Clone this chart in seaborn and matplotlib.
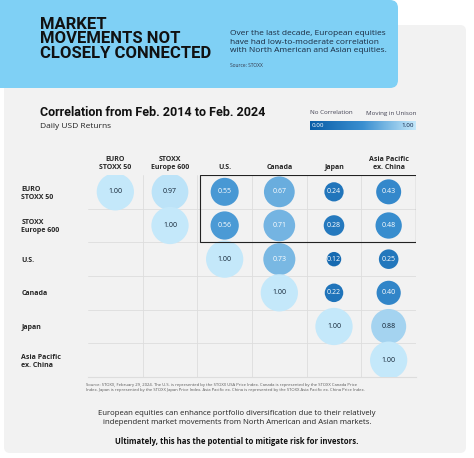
import matplotlib
matplotlib.use("Agg")
import matplotlib.pyplot as plt
import seaborn as sns
import pandas as pd
import numpy as np
from matplotlib.patches import FancyBboxPatch, Rectangle
from matplotlib.colors import LinearSegmentedColormap

sns.set_style("white")
plt.rcParams['font.family'] = ['Open Sans', 'DejaVu Sans']

col_labels = ["EURO\nSTOXX 50", "STOXX\nEurope 600", "U.S.", "Canada", "Japan", "Asia Pacific\nex. China"]
row_labels = ["EURO\nSTOXX 50", "STOXX\nEurope 600", "U.S.", "Canada", "Japan", "Asia Pacific\nex. China"]
row_idx = [0, 0, 0, 0, 0, 0, 1, 1, 1, 1, 1, 2, 2, 2, 2, 3, 3, 3, 4, 4, 5]
col_idx = [0, 1, 2, 3, 4, 5, 1, 2, 3, 4, 5, 2, 3, 4, 5, 3, 4, 5, 4, 5, 5]
values = [1.00, 0.97, 0.55, 0.67, 0.24, 0.43,
          1.00, 0.56, 0.71, 0.28, 0.48,
          1.00, 0.73, 0.12, 0.25,
          1.00, 0.22, 0.40,
          1.00, 0.88,
          1.00]

df = pd.DataFrame({"row": row_idx, "col": col_idx, "value": values})
cmap = LinearSegmentedColormap.from_list("c", ["#0b5ea8", "#3a8fd0", "#c4e8fa"])

fig = plt.figure(figsize=(4.74, 4.58), dpi=100)
fig.patch.set_facecolor("white")
bg = fig.add_axes([0, 0, 1, 1]); bg.axis("off")
bg.add_patch(FancyBboxPatch((4, 25), 462, 428, boxstyle="round,pad=0,rounding_size=6", fc="#f2f2f2", ec="none"))
bg.add_patch(FancyBboxPatch((-10, 0), 408, 88, boxstyle="round,pad=0,rounding_size=8", fc="#7fd0f5", ec="none"))
bg.text(40, 17, "MARKET\nMOVEMENTS NOT\nCLOSELY CONNECTED", fontsize=12, fontweight="bold", va="top",
        family=["Roboto", "DejaVu Sans"], linespacing=0.95, color="#111")
bg.text(230, 30, "Over the last decade, European equities\nhave had low-to-moderate correlation\nwith North American and Asian equities.",
        fontsize=6, va="top", color="#1a2a40", linespacing=1.3)
bg.text(230, 67, "Source: STOXX", fontsize=3.5, color="#334")
bg.text(40, 113, "Correlation from Feb. 2014 to Feb. 2024", fontsize=9, fontweight="bold",
        family=["Roboto", "DejaVu Sans"], va="center", stretch="condensed", color="#111")
bg.text(40, 126, "Daily USD Returns", fontsize=6, va="center", color="#222")
bg.text(310, 113, "No Correlation", fontsize=4.5, va="center", color="#445")
bg.text(416, 113, "Moving in Unison", fontsize=4.5, va="center", ha="right", color="#445")
grad = np.linspace(0, 1, 100).reshape(1, -1)
bg.imshow(grad, extent=[310, 416, 130, 121], cmap=cmap, aspect="auto", zorder=2)
bg.text(312, 125.5, "0.00", fontsize=4.5, va="center", color="white", zorder=3)
bg.text(414, 125.5, "1.00", fontsize=4.5, va="center", ha="right", color="#124", zorder=3)
bg.text(86, 383, "Source: STOXX, February 29, 2024. The U.S. is represented by the STOXX USA Price Index. Canada is represented by the STOXX Canada Price\nIndex. Japan is represented by the STOXX Japan Price Index. Asia Pacific ex. China is represented by the STOXX Asia Pacific ex. China Price Index.",
        fontsize=3, va="top", color="#555")
bg.text(237, 418, "European equities can enhance portfolio diversification due to their relatively\nindependent market movements from North American and Asian markets.",
        fontsize=5.6, ha="center", va="center", color="#222", linespacing=1.4)
bg.text(237, 441, "Ultimately, this has the potential to mitigate risk for investors.", fontsize=5.6,
        ha="center", va="center", fontweight="bold", color="#111")
bg.set_xlim(0, 474); bg.set_ylim(458, 0)

ax = fig.add_axes([88/474, 1-377/458, (416-88)/474, (377-175)/458])
ax.set_facecolor("none")
sns.scatterplot(data=df, x="col", y="row", hue="value", size="value", palette=cmap,
                hue_norm=(0, 1), sizes=(25, 720), size_norm=(0, 1), legend=False,
                edgecolor="none", ax=ax, zorder=3)
for r, c, v in zip(row_idx, col_idx, values):
    ax.text(c, r, f"{v:.2f}", ha="center", va="center", fontsize=5,
            color="white" if v < 0.8 else "#123", zorder=4)
ax.set_xlim(-0.5, 5.5); ax.set_ylim(5.5, -0.5)
for x in np.arange(0.5, 5.5, 1):
    ax.axvline(x, color="#dddddd", lw=0.6, zorder=1)
for y in np.arange(0.5, 5.5, 1):
    ax.axhline(y, color="#dddddd", lw=0.6, zorder=1)
ax.add_patch(Rectangle((1.55, -0.5), 3.95, 2.0, fill=False, ec="#222", lw=0.8, zorder=5))
ax.set_xticks(range(6)); ax.set_xticklabels(col_labels, fontsize=5, fontweight="bold")
ax.set_yticks(range(6)); ax.set_yticklabels(row_labels, fontsize=5, fontweight="bold", ha="left")
ax.yaxis.set_tick_params(pad=48, length=0)
ax.xaxis.tick_top(); ax.xaxis.set_tick_params(length=0, pad=3)
ax.set_xlabel(""); ax.set_ylabel("")
for s in ax.spines.values():
    s.set_visible(False)
ax.spines["bottom"].set_visible(True); ax.spines["bottom"].set_color("#dddddd")
fig.savefig("out.png", dpi=100)
